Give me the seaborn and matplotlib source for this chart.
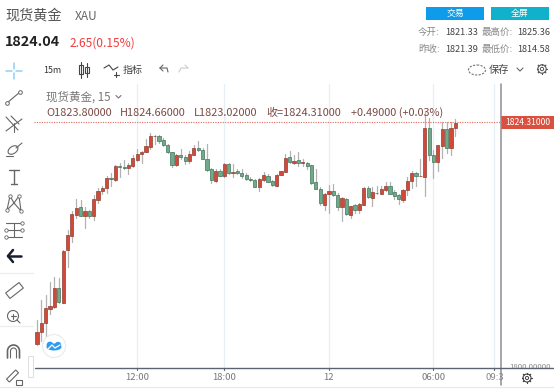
import numpy as np
import pandas as pd
import matplotlib.pyplot as plt
from matplotlib.patches import Circle, Ellipse, Rectangle, FancyBboxPatch
import seaborn as sns

opens = [1802.28, 1803.44, 1804.39, 1805.75, 1805.98, 1807.87, 1806.38, 1811.61, 1813.00, 1815.11,
         1815.90, 1815.01, 1815.50, 1815.01, 1816.57, 1817.43, 1817.73, 1818.78, 1818.55, 1819.94,
         1819.84, 1819.71, 1819.97, 1820.56, 1821.10, 1821.33, 1821.82, 1822.89, 1822.92, 1822.52,
         1822.02, 1821.30, 1820.04, 1821.00, 1820.86, 1820.46, 1821.03, 1821.72, 1821.53, 1820.63,
         1819.67, 1818.42, 1819.47, 1818.95, 1820.14, 1819.24, 1819.41, 1819.27, 1819.05, 1818.68,
         1818.55, 1817.89, 1818.55, 1818.98, 1818.45, 1817.98, 1819.08, 1819.37, 1820.83, 1820.21,
         1820.56, 1820.27, 1820.27, 1820.00, 1818.35, 1817.69, 1816.10, 1817.16, 1817.43, 1817.09,
         1815.84, 1816.70, 1815.11, 1816.04, 1815.57, 1816.10, 1817.76, 1816.79, 1817.29, 1817.19,
         1817.56, 1817.96, 1817.39, 1817.03, 1816.57, 1817.56, 1818.48, 1819.22, 1818.92, 1818.88,
         1823.71, 1821.03, 1820.31, 1821.95, 1823.64, 1821.70, 1823.71]
closes = [1803.44, 1804.33, 1805.82, 1806.08, 1807.87, 1806.48, 1811.51, 1813.09, 1815.15, 1815.77,
          1815.01, 1815.50, 1815.01, 1816.67, 1817.46, 1817.76, 1818.75, 1818.68, 1819.94, 1819.81,
          1819.71, 1820.04, 1820.73, 1821.16, 1821.36, 1821.92, 1822.95, 1822.95, 1822.45, 1822.02,
          1821.30, 1820.04, 1821.00, 1820.80, 1820.46, 1821.13, 1821.72, 1821.50, 1820.66, 1819.51,
          1818.55, 1819.47, 1818.95, 1820.14, 1819.22, 1819.37, 1819.21, 1818.98, 1818.62, 1818.52,
          1817.89, 1818.65, 1819.05, 1818.38, 1818.05, 1819.05, 1819.41, 1820.76, 1820.31, 1820.46,
          1820.24, 1820.34, 1819.97, 1818.28, 1817.69, 1816.24, 1817.16, 1817.46, 1817.06, 1815.84,
          1816.73, 1815.18, 1815.94, 1815.54, 1816.17, 1817.76, 1816.83, 1817.33, 1817.23, 1817.66,
          1817.96, 1817.19, 1816.99, 1816.64, 1817.56, 1818.48, 1819.27, 1818.95, 1818.98, 1823.71,
          1821.03, 1820.37, 1822.02, 1823.58, 1821.70, 1823.71, 1824.23]
highs = [1804.66, 1806.65, 1807.14, 1808.46, 1808.90, 1808.86, 1811.61, 1813.59, 1815.50, 1816.67,
         1816.57, 1815.84, 1815.58, 1817.06, 1817.73, 1817.96, 1818.95, 1819.22, 1820.04, 1820.27,
         1820.53, 1820.27, 1821.03, 1821.60, 1821.43, 1822.59, 1823.18, 1823.00, 1823.01, 1822.69,
         1822.12, 1821.36, 1821.10, 1821.60, 1821.03, 1821.43, 1822.02, 1822.45, 1821.70, 1822.12,
         1819.77, 1819.61, 1819.61, 1820.21, 1820.27, 1820.11, 1819.61, 1819.67, 1819.22, 1818.82,
         1818.62, 1818.72, 1819.31, 1819.15, 1818.55, 1819.12, 1819.47, 1821.10, 1821.46, 1821.03,
         1821.30, 1820.60, 1820.31, 1820.07, 1819.61, 1817.83, 1817.29, 1818.05, 1818.15, 1817.23,
         1816.89, 1816.79, 1816.00, 1816.17, 1816.24, 1817.89, 1817.96, 1817.89, 1817.96, 1817.96,
         1818.38, 1818.38, 1817.56, 1817.16, 1817.63, 1818.85, 1819.44, 1819.37, 1820.60, 1825.30,
         1824.67, 1821.53, 1822.02, 1824.33, 1824.33, 1824.33, 1824.57]
lows = [1802.20, 1802.58, 1803.01, 1805.26, 1805.82, 1806.32, 1806.30, 1809.92, 1812.43, 1814.78,
        1814.95, 1813.82, 1814.75, 1814.58, 1816.24, 1817.16, 1817.29, 1817.98, 1818.45, 1818.88,
        1819.61, 1819.12, 1819.87, 1820.46, 1820.21, 1821.30, 1821.60, 1822.09, 1822.19, 1821.92,
        1821.20, 1819.87, 1819.94, 1820.60, 1820.11, 1820.21, 1821.00, 1821.46, 1820.60, 1819.44,
        1818.28, 1818.38, 1818.90, 1818.88, 1819.15, 1818.82, 1819.12, 1818.72, 1818.55, 1818.45,
        1817.83, 1817.49, 1818.48, 1818.32, 1817.98, 1817.96, 1819.05, 1819.31, 1820.21, 1820.14,
        1819.97, 1819.94, 1819.61, 1818.12, 1817.63, 1816.07, 1815.57, 1815.25, 1816.96, 1815.57,
        1814.51, 1815.08, 1814.81, 1815.31, 1815.25, 1816.07, 1816.73, 1815.97, 1817.20, 1817.13,
        1817.49, 1817.13, 1816.67, 1816.17, 1816.40, 1817.06, 1817.79, 1817.96, 1818.90, 1816.99,
        1820.53, 1818.72, 1819.44, 1820.76, 1821.20, 1821.03, 1822.92]

time_ticks = [23, 43, 67, 91, 105]
time_labels = ['12:00', '18:00', '12', '06:00', '09:3']
last_price = 1824.31
scale_price = 1800

sns.set_theme(style='white')
plt.rcParams['font.family'] = ['Noto Sans CJK SC', 'DejaVu Sans']

W, H = 554, 389
fig = plt.figure(figsize=(W / 100, H / 100), dpi=100, facecolor='white')

# price pane, placed in pixels of the screenshot
ax = fig.add_axes([34 / W, (H - 368) / H, (501 - 34) / W, (368 - 84) / H])
ax.set_xlim(-0.69, 106.5)
ax.set_ylim(1799.9, 1828.07)
ax.set_facecolor('white')
for s in ax.spines.values():
    s.set_visible(False)
ax.set_xticks([])
ax.set_yticks([])

for t in time_ticks:
    ax.axvline(t, color='#e6eff5', lw=0.9, zorder=0)

idx = np.arange(len(opens))
wicks = pd.DataFrame({
    'idx': np.concatenate([idx, idx]),
    'price': highs + lows,
})
sns.lineplot(data=wicks, x='idx', y='price', units='idx', estimator=None, sort=False,
             color='#b2b2b2', lw=0.9, legend=False, ax=ax, zorder=2)
ax.set_xlabel('')
ax.set_ylabel('')

o = np.array(opens)
c = np.array(closes)
up = c >= o
ax.bar(idx[up], (c - o)[up], bottom=o[up], width=0.74, color='#d34836', edgecolor='#8a4035',
       linewidth=0.5, zorder=3)
ax.bar(idx[~up], (c - o)[~up], bottom=o[~up], width=0.74, color='#6fab8a', edgecolor='#3f7459',
       linewidth=0.5, zorder=3)

ax.axhline(last_price, color='#e0685c', lw=0.8, ls=(0, (1, 1.2)), zorder=4)

# page chrome goes on a full-size overlay in pixel coordinates
ui = fig.add_axes([0, 0, 1, 1], facecolor='none')
ui.set_xlim(0, W)
ui.set_ylim(H, 0)
ui.axis('off')


def txt(x, y, s, size=6.5, color='#555555', ha='left', **kw):
    ui.text(x, y, s, fontsize=size, color=color, ha=ha, va='center', **kw)


def line(xs, ys, color='#555555', lw=0.8, **kw):
    ui.plot(xs, ys, color=color, lw=lw, solid_capstyle='round', **kw)


def gear(x, y, r, color='#555555'):
    for a in np.arange(8) * np.pi / 4:
        line([x + r * np.cos(a), x + (r + 1.2) * np.cos(a)],
             [y + r * np.sin(a), y + (r + 1.2) * np.sin(a)], color, lw=0.9)
    ui.add_patch(Circle((x, y), r, fc='white', ec=color, lw=0.8))
    ui.add_patch(Circle((x, y), r * 0.4, fc='white', ec=color, lw=0.7))


# header
txt(5, 16, '现货黄金', 10.2)
txt(75, 16, 'XAU', 8.6, '#666666')
txt(5, 42, '1824.04', 10.4, '#222222', fontweight='bold')
txt(70, 43, '2.65(0.15%)', 8.6, '#f23b3b')

# trade buttons and quote block
ui.add_patch(Rectangle((426, 7), 58, 13, color='#0e9bea', lw=0))
ui.add_patch(Rectangle((491, 7), 58, 13, color='#10b2cb', lw=0))
txt(455, 13.5, '交易', 6.4, 'white', ha='center')
txt(520, 13.5, '全屏', 6.4, 'white', ha='center')
txt(418, 32, '今开:', 6.8, '#888888')
txt(445, 32, '1821.33', 6.6, '#444444')
txt(482, 32, '最高价:', 6.8, '#888888')
txt(517, 32, '1825.36', 6.6, '#444444')
txt(418, 49, '昨收:', 6.8, '#888888')
txt(445, 49, '1821.39', 6.6, '#444444')
txt(482, 49, '最低价:', 6.8, '#888888')
txt(517, 49, '1814.58', 6.6, '#444444')

# toolbar
txt(43, 70, '15m', 6.4, '#333333')
line([81, 81], [62, 78], '#444444')
ui.add_patch(Rectangle((79, 65), 4, 9, fc='white', ec='#444444', lw=0.8))
line([87, 87], [63, 77], '#444444')
ui.add_patch(Rectangle((85, 67), 4, 6, fc='white', ec='#444444', lw=0.8))
line([104, 109, 113, 118], [68, 65, 70, 67], '#444444')
line([116, 116], [72, 77], '#444444')
line([113.5, 118.5], [74.5, 74.5], '#444444')
txt(123, 70, '指标', 7.2, '#444444')
line([160, 167, 168], [68, 68, 72], '#666666')
line([160, 163], [68, 65], '#666666')
line([160, 163], [68, 71], '#666666')
line([188, 181, 179], [68, 68, 72], '#cccccc')
line([188, 185], [68, 65], '#cccccc')
txt(489, 70, '保存', 7.4, '#444444')
ui.add_patch(Ellipse((477, 70), 17, 10, fc='white', ec='#777777', lw=0.8, ls=(0, (2, 1.2))))
line([517, 520, 523], [68, 71, 68], '#666666')
gear(542, 69, 4.2)

# legend text over the candles
ohlc_color = '#7b4a45'
txt(46, 97, '现货黄金, 15', 8.3, '#777777')
line([116, 118.5, 121], [95.5, 98, 95.5], '#777777')
txt(46, 113, 'O1823.80000', 7.9, ohlc_color)
txt(120, 113, 'H1824.66000', 7.9, ohlc_color)
txt(194, 113, 'L1823.02000', 7.9, ohlc_color)
txt(266, 113, '收=1824.31000', 7.9, ohlc_color)
txt(351, 113, '+0.49000 (+0.03%)', 7.9, ohlc_color)

# price scale
line([501, 501], [84, 385], '#8a8e96', lw=1.1)
txt(509, 367, '1800.00000', 5.6, '#888888')
ui.add_patch(Rectangle((505, 368.6), 49, 2.5, color='white', lw=0, zorder=3))
line([35, W], [368, 368], '#5d6270', lw=1.0, zorder=4)
ui.add_patch(Rectangle((501, 116), 53, 13, color='#d9503f', lw=0))
txt(527.5, 122.5, '1824.31000', 6.2, 'white', ha='center')

# time labels
for t, lab in zip(time_ticks, time_labels):
    px = 34 + (t + 0.69) * (501 - 34) / 107.19
    line([px, px], [368, 370], '#5d6270', lw=0.8)
    if lab == '09:3':
        txt(485, 378, lab, 6.8, '#888888')
    else:
        txt(px, 378, lab, 6.8, '#777777', ha='center')
gear(527, 378, 4, '#444444')
line([0, W], [387, 387], '#e8e8e8', lw=0.8)

# cloud badge
ui.add_patch(Circle((54, 346), 11.5, fc='white', ec='#ececec', lw=0.9, zorder=5))
ui.add_patch(Ellipse((54, 347), 15, 7, color='#2f9bf0', lw=0, zorder=6))
ui.add_patch(Circle((50, 345), 3.4, color='#2f9bf0', lw=0, zorder=6))
ui.add_patch(Circle((58, 345), 3.2, color='#2f9bf0', lw=0, zorder=6))
line([48, 52, 55, 60], [349, 345, 348, 345], 'white', lw=0.9, zorder=7)

# left drawing tools
ic = '#666666'
line([6, 12], [71, 71], '#8fd0f7', lw=1.1)
line([16, 22], [71, 71], '#8fd0f7', lw=1.1)
line([14, 14], [63, 69], '#8fd0f7', lw=1.1)
line([14, 14], [73, 79], '#8fd0f7', lw=1.1)
line([7, 20], [103, 92], ic)
ui.scatter([7, 20], [103, 92], s=7, fc='white', ec=ic, lw=0.7, zorder=5)
line([6, 18], [117, 130], ic)
line([6, 22], [131, 119], ic)
line([11, 19], [116, 124], ic)
line([14, 14], [123, 132], ic)
ui.add_patch(Ellipse((13, 150), 11, 7, angle=-35, fc='white', ec=ic, lw=0.8))
line([16, 22], [148, 143], ic)
line([6, 13], [156, 156], ic)
line([14, 14], [170, 184], ic, lw=1.0)
line([9, 19], [170, 170], ic, lw=1.0)
line([11, 17], [184, 184], ic, lw=1.0)
line([7, 10, 14, 19, 21, 14, 7], [210, 196, 203, 196, 211, 203, 210], ic)
ui.scatter([7, 10, 19, 21], [210, 196, 196, 211], s=6, fc='white', ec=ic, lw=0.6, zorder=5)
for yy in (223, 230, 237):
    line([6, 22], [yy, yy], ic)
line([14, 14], [223, 237], ic)
ui.scatter([6, 22, 6, 22], [230, 230, 237, 223], s=6, fc='white', ec=ic, lw=0.6, zorder=5)
line([8, 13], [256, 250], '#1a1f2e', lw=1.8)
line([8, 13], [256, 262], '#1a1f2e', lw=1.8)
line([8, 21], [256, 256], '#1a1f2e', lw=1.8)
line([0, 33], [273, 273], '#eeeeee', lw=0.9)
ui.add_patch(Rectangle((6, 287), 17, 7, angle=-38, rotation_point='center', fc='white', ec=ic, lw=0.8))
ui.add_patch(Circle((13, 316), 5.5, fc='white', ec=ic, lw=0.8))
line([10.5, 15.5], [316, 316], ic)
line([13, 13], [313.5, 318.5], ic)
line([17, 20], [320, 323], ic)
line([0, 33], [326, 326], '#eeeeee', lw=0.9)
arc = np.linspace(np.pi, 2 * np.pi, 20)
line(np.r_[7.5, 13.5 + 6 * np.cos(arc), 19.5], np.r_[358, 351 + 6 * np.sin(arc), 358], ic, lw=1.2)
line(np.r_[10.5, 13.5 + 3 * np.cos(arc), 16.5], np.r_[358, 351 + 3 * np.sin(arc), 358], ic, lw=0.8)
ui.add_patch(Rectangle((6, 374), 13, 4, angle=-45, rotation_point='center', fc='white', ec=ic, lw=0.8))
ui.add_patch(Rectangle((16, 380), 6, 5, fc='white', ec=ic, lw=0.8))
ui.add_patch(FancyBboxPatch((29, 357), 4, 20, boxstyle='round,pad=0.5', fc='white', ec='#dddddd', lw=0.7))

fig.savefig('out.png', dpi=100)
